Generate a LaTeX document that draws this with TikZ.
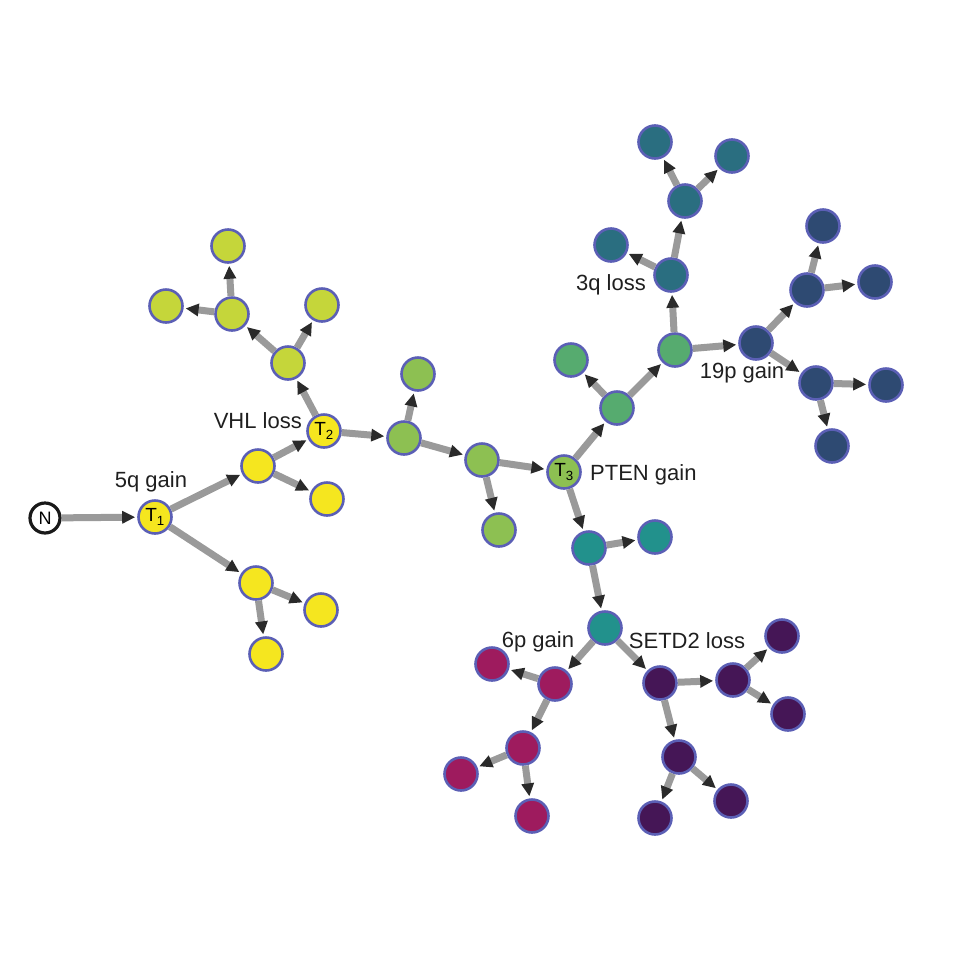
\documentclass[tikz,border=0pt]{standalone}
\usepackage{fontspec}
\setmainfont{Liberation Sans}
\usetikzlibrary{arrows.meta}
\definecolor{bord}{HTML}{5B5FB5}
\definecolor{cYel}{HTML}{F5E61F}
\definecolor{cYG}{HTML}{C5D63A}
\definecolor{cGr}{HTML}{8DC052}
\definecolor{cMG}{HTML}{56AB6F}
\definecolor{cTeal}{HTML}{2A6E80}
\definecolor{cDB}{HTML}{2E4A72}
\definecolor{cTG}{HTML}{22918C}
\definecolor{cMag}{HTML}{9E1B5E}
\definecolor{cPur}{HTML}{451656}
\definecolor{edg}{HTML}{9A9A9A}
\definecolor{tipc}{HTML}{2A2A2A}
\tikzset{
  cell/.style={circle,draw=bord,line width=2.6pt,minimum size=33pt,inner sep=0pt,font=\fontsize{19}{19}\selectfont},
  normal/.style={circle,draw=black!90,line width=3.2pt,fill=white,minimum size=30pt,inner sep=0pt,font=\fontsize{18}{18}\selectfont},
  edge/.style={draw=edg,line width=7pt,-{Triangle[length=13pt,width=12pt,color=tipc]},shorten >=2pt},
  lab/.style={font=\fontsize{22}{22}\selectfont,text=black!88,inner sep=0pt}
}
\begin{document}
\begin{tikzpicture}[x=1pt,y=-1pt]
\useasboundingbox (0,0) rectangle (970,970);
% nodes
\node[normal] (N) at (45,518) {N};
\node[cell,fill=cYel] (T1) at (155,517) {T\textsubscript{1}};
\node[cell,fill=cYel] (A1) at (258,466) {};
\node[cell,fill=cYel] (A2) at (327,499) {};
\node[cell,fill=cYel] (T2) at (324,431) {T\textsubscript{2}};
\node[cell,fill=cYel] (B1) at (256,583) {};
\node[cell,fill=cYel] (B2) at (321,610) {};
\node[cell,fill=cYel] (B3) at (266,654) {};
\node[cell,fill=cYG] (C) at (288,363) {};
\node[cell,fill=cYG] (C1) at (322,305) {};
\node[cell,fill=cYG] (C2) at (232,314) {};
\node[cell,fill=cYG] (C3) at (228,246) {};
\node[cell,fill=cYG] (C4) at (166,306) {};
\node[cell,fill=cGr] (D) at (404,438) {};
\node[cell,fill=cGr] (D1) at (418,374) {};
\node[cell,fill=cGr] (E) at (482,460) {};
\node[cell,fill=cGr] (E1) at (499,530) {};
\node[cell,fill=cGr] (T3) at (564,472) {T\textsubscript{3}};
\node[cell,fill=cMG] (F) at (617,408) {};
\node[cell,fill=cMG] (F1) at (571,360) {};
\node[cell,fill=cMG] (H) at (675,350) {};
\node[cell,fill=cTeal] (I) at (671,275) {};
\node[cell,fill=cTeal] (I1) at (611,245) {};
\node[cell,fill=cTeal] (K) at (685,201) {};
\node[cell,fill=cTeal] (K1) at (655,142) {};
\node[cell,fill=cTeal] (K2) at (732,156) {};
\node[cell,fill=cDB] (J) at (756,343) {};
\node[cell,fill=cDB] (J1) at (807,290) {};
\node[cell,fill=cDB] (J2) at (823,226) {};
\node[cell,fill=cDB] (J3) at (875,282) {};
\node[cell,fill=cDB] (L) at (816,383) {};
\node[cell,fill=cDB] (L1) at (886,385) {};
\node[cell,fill=cDB] (L2) at (832,446) {};
\node[cell,fill=cTG] (G) at (589,548) {};
\node[cell,fill=cTG] (G1) at (655,537) {};
\node[cell,fill=cTG] (M) at (605,628) {};
\node[cell,fill=cMag] (P) at (555,684) {};
\node[cell,fill=cMag] (P1) at (492,664) {};
\node[cell,fill=cMag] (R) at (523,748) {};
\node[cell,fill=cMag] (R1) at (461,774) {};
\node[cell,fill=cMag] (R2) at (532,816) {};
\node[cell,fill=cPur] (Q) at (660,683) {};
\node[cell,fill=cPur] (Q1) at (733,680) {};
\node[cell,fill=cPur] (Q2) at (782,636) {};
\node[cell,fill=cPur] (Q3) at (788,714) {};
\node[cell,fill=cPur] (S) at (679,757) {};
\node[cell,fill=cPur] (S1) at (655,818) {};
\node[cell,fill=cPur] (S2) at (731,801) {};
% edges
\foreach \a/\b in {N/T1,T1/A1,T1/B1,A1/T2,A1/A2,B1/B2,B1/B3,T2/C,T2/D,C/C1,C/C2,C2/C3,C2/C4,
  D/D1,D/E,E/E1,E/T3,T3/F,T3/G,F/F1,F/H,H/I,H/J,I/I1,I/K,K/K1,K/K2,J/J1,J/L,J1/J2,J1/J3,L/L1,L/L2,
  G/G1,G/M,M/P,M/Q,P/P1,P/R,R/R1,R/R2,Q/Q1,Q/S,Q1/Q2,Q1/Q3,S/S1,S/S2}
  \draw[edge] (\a) -- (\b);
% labels
\node[lab] (l1) at (151,482) {5q gain};
\node[lab,anchor=east] (l2) at (302,421) {VHL loss};
\node[lab,anchor=west] (l3) at (590,475) {PTEN gain};
\node[lab] (l4) at (611,285) {3q loss};
\node[lab] (l5) at (742,373) {19p gain};
\node[lab] (l6) at (538,642) {6p gain};
\node[lab] (l7) at (687,641) {SETD2 loss};
\end{tikzpicture}
\end{document}
